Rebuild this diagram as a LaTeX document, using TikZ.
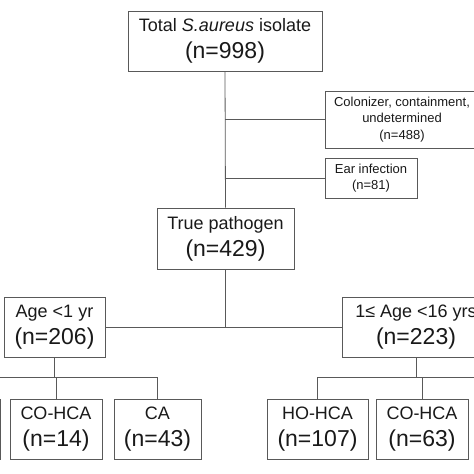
\documentclass[tikz,border=0pt]{standalone}
\usepackage{fontspec}
\setmainfont{Liberation Sans}
\usepackage{tikz}
\usetikzlibrary{positioning}
\newcommand{\lab}{\fontsize{18}{27}\selectfont}
\newcommand{\cnt}{\fontsize{23}{27}\selectfont}
\newcommand{\sml}{\fontsize{13}{16.5}\selectfont}
\begin{document}
\begin{tikzpicture}[x=1pt, y=1pt]
    \tikzstyle{box}=[rectangle, draw=black!65, line width=0.8pt, align=center, text=black!90, inner sep=0pt, font=\cnt]
    \tikzstyle{line}=[draw=black!65, line width=0.8pt]
    \useasboundingbox (0,0) rectangle (474,-474);
    \clip (0,0) rectangle (474,-474);
    \node [box, minimum width=194, minimum height=60] (total) at (225,-41) {{\lab Total \textit{S.aureus} isolate}\\(n=998)};
    \node [box, font=\sml, minimum width=154, minimum height=57] (colon) at (402,-119.5) {Colonizer, containment,\\undetermined\\(n=488)};
    \node [box, font=\sml, minimum width=92, minimum height=40] (ear) at (371,-178) {Ear infection\\(n=81)};
    \node [box, minimum width=137, minimum height=61] (true) at (225.5,-238.5) {{\lab True pathogen}\\(n=429)};
    \node [box, minimum width=101, minimum height=60] (young) at (54.5,-327) {{\lab Age <1 yr}\\(n=206)};
    \node [box, minimum width=148, minimum height=60] (old) at (416,-327) {{\lab 1≤ Age <16 yrs}\\(n=223)};
    \node [box, minimum width=92, minimum height=60] (hoyoung) at (-46,-429) {};
    \node [box, minimum width=92, minimum height=60] (coyoung) at (56,-429) {{\lab CO-HCA}\\(n=14)};
    \node [box, minimum width=87, minimum height=60] (cayoung) at (157.5,-429) {{\lab CA}\\(n=43)};
    \node [box, minimum width=101, minimum height=60] (hoold) at (317.5,-429) {{\lab HO-HCA}\\(n=107)};
    \node [box, minimum width=92, minimum height=60] (coold) at (422,-429) {{\lab CO-HCA}\\(n=63)};
    \coordinate (caold) at (527,-399);
    \draw [line] (total.south) -- (true.north);
    \draw [line] (colon.west) -- (colon.west -| total.south);
    \draw [line] (ear.west) -- (ear.west -| total.south);
    \draw [line] (true.south) -- (true.south |- young.east);
    \draw [line] (young.east) -- (old.west);
    \draw [line] (young.south) -- ++(0,-20) coordinate (yj);
    \draw [line] (hoyoung.north) |- (yj) -| (cayoung.north);
    \draw [line] (coyoung.north) -- (coyoung.north |- yj);
    \draw [line] (old.south) -- ++(0,-20) coordinate (oj);
    \draw [line] (hoold.north) |- (oj) -| (caold);
    \draw [line] (coold.north) -- (coold.north |- oj);
  \end{tikzpicture}
\end{document}
